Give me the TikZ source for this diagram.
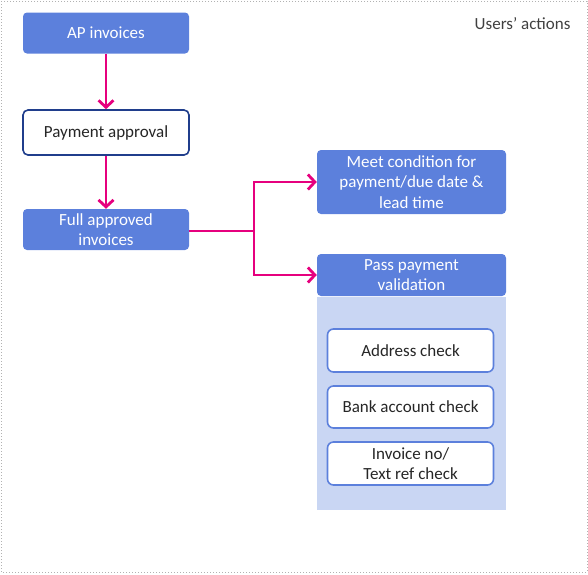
\documentclass[tikz,border=0pt]{standalone}
\usepackage{fontspec}
\setmainfont{Carlito}
\usetikzlibrary{arrows.meta}
\definecolor{stepblue}{RGB}{92,128,220}
\definecolor{darkrim}{RGB}{32,62,140}
\definecolor{panelblue}{RGB}{201,214,243}
\definecolor{flowpink}{RGB}{230,0,126}
\tikzset{
  bluebox/.style={rectangle,rounded corners=4pt,fill=stepblue,text=white,
    minimum width=166pt,align=center,font=\fontsize{17}{20.5}\selectfont,inner sep=0pt},
  checkbox/.style={rectangle,rounded corners=6pt,fill=white,draw=stepblue,line width=1.6pt,
    text=black!85,minimum width=166pt,align=center,font=\fontsize{17}{20.5}\selectfont,inner sep=0pt},
  flow/.style={draw=flowpink,line width=2.8pt,-{Straight Barb[length=7pt,width=15pt]}}
}
\begin{document}
\begin{tikzpicture}[x=1pt,y=-1pt]
  \useasboundingbox (0,0) rectangle (588,574);
  \draw[black!30,dotted,line width=1pt] (1,1) rectangle (587,572);
  \node[anchor=north east,text=black!75,font=\fontsize{17}{20}\selectfont] (title) at (574,14) {Users’ actions};

  \fill[panelblue] (317,297) rectangle (506,510);

  \node [bluebox,minimum height=41pt] (ap) at (106,33) {AP invoices};
  \node [checkbox,draw=darkrim,rounded corners=5pt,minimum height=45pt] (approval) at (106,132.5) {Payment approval};
  \node [bluebox,minimum height=41pt] (full) at (106,229.5) {Full approved\\invoices};
  \node [bluebox,minimum width=189pt,minimum height=64pt] (meet) at (411.5,182) {Meet condition for\\payment/due date \&\\lead time};
  \node [bluebox,minimum width=189pt,minimum height=42pt] (pass) at (411.5,275) {Pass payment\\validation};

  \node [checkbox,minimum height=43pt] (address) at (410.5,350.5) {Address check};
  \node [checkbox,minimum height=42pt] (bank) at (410.5,407) {Bank account check};
  \node [checkbox,minimum height=43pt] (invoice) at (410.5,463.5) {Invoice no/\\Text ref check};

  \draw [flow] (ap) -- (approval);
  \draw [flow] (approval) -- (full);
  \coordinate (fork) at (254,231);
  \draw [draw=flowpink,line width=2.8pt] (full.east |- fork) -- (fork);
  \draw [flow] (fork) |- (meet);
  \draw [flow] (fork) |- (pass);
\end{tikzpicture}
\end{document}
